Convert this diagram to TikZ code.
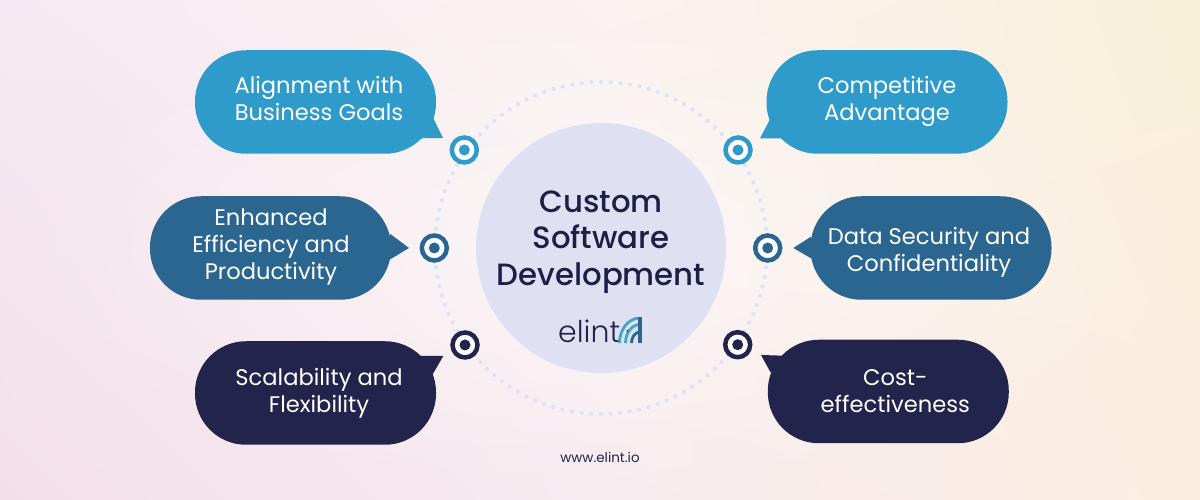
\documentclass[tikz,border=0pt]{standalone}
\usepackage{fontspec}
\usepackage{xcolor}
\usepackage{tikz}
\usetikzlibrary{positioning}
\usetikzlibrary{shadings}
\usetikzlibrary{fadings}
\setmainfont{Poppins}
\newfontfamily\hubfont{Poppins Medium}
\newfontfamily\logofont{Poppins Light}
\definecolor{skyblue}{HTML}{2E9BCB}
\definecolor{steelblue}{HTML}{2A668F}
\definecolor{navy}{HTML}{23244B}
\definecolor{hubink}{HTML}{1E1F45}
\definecolor{hubfill}{HTML}{DFE1F2}
\definecolor{ringdot}{HTML}{DFE2F4}
\definecolor{logoteal}{HTML}{3FA7C6}
\definecolor{bgtl}{HTML}{F5EAF3}
\definecolor{bgtm}{HTML}{FAF3F1}
\definecolor{bgtr}{HTML}{F9F0D8}
\definecolor{bgbl}{HTML}{F3DFEA}
\definecolor{bgbm}{HTML}{F7EBF0}
\definecolor{bgbr}{HTML}{FBEEE0}
\tikzfading[name=glow, inner color=transparent!55, outer color=transparent!100]

\begin{document}
\begin{tikzpicture}[
      x=1pt, y=1pt,
      on grid,
      hubnode/.style={circle,fill=hubfill,minimum size=250pt,inner sep=0pt},
      bubble/.style={rectangle,rounded corners=51pt,minimum width=241pt,minimum height=103.5pt,inner sep=0pt,fill=#1},
      bubtext/.style={text=white,align=center,inner sep=0pt,font=\fontsize{22.6}{27}\selectfont},
      marker/.style={circle,draw=#1,line width=4.5pt,fill=white,minimum size=25pt,inner sep=0pt,
        path picture={\fill[#1] (path picture bounding box.center) circle (5.5pt);}}
      ]

      \useasboundingbox (0,0) rectangle (1200,500);
      \shade[upper left=bgtl, upper right=bgtm, lower left=bgbl, lower right=bgbm] (0,0) rectangle (601,500);
      \shade[upper left=bgtm, upper right=bgtr, lower left=bgbm, lower right=bgbr] (600,0) rectangle (1200,500);
      \fill[white, path fading=glow] (0,0) rectangle (1200,500);

      \node[hubnode] (hub) at (601,252) {};
      \draw[ringdot, line width=4.2pt, line cap=round, dash pattern=on 0pt off 9.657pt] (hub) circle (166pt);

      \node[marker=skyblue, above left=98pt and 136.7pt of hub] (m1) {};
      \node[marker=steelblue, left=166.7pt of hub] (m2) {};
      \node[marker=navy, below left=97pt and 136pt of hub] (m3) {};
      \node[marker=skyblue, above right=98pt and 137pt of hub] (m4) {};
      \node[marker=steelblue, right=166.7pt of hub] (m5) {};
      \node[marker=navy, below right=96.7pt and 136.7pt of hub] (m6) {};

      \node[bubble=skyblue, above left=48pt and 148.8pt of m1] (b1) {};
      \node[bubble=steelblue, left=163.8pt of m2] (b2) {};
      \node[bubble=navy, below left=48pt and 149.5pt of m3] (b3) {};
      \node[bubble=skyblue, above right=48pt and 149pt of m4] (b4) {};
      \node[bubble=steelblue, right=163.3pt of m5] (b5) {};
      \node[bubble=navy, below right=46.8pt and 150.6pt of m6] (b6) {};

      \fill[skyblue] ([shift={(127.5,-36)}]b1.center) -- ([shift={(117.8,-16.3)}]b1.center) -- ([shift={(104.5,-36.3)}]b1.center) -- cycle;
      \fill[steelblue] ([shift={(138.5,0)}]b2.center) -- ([shift={(119.5,14.3)}]b2.center) -- ([shift={(117.5,-12.7)}]b2.center) -- cycle;
      \fill[navy] ([shift={(127.8,37)}]b3.center) -- ([shift={(105.2,37)}]b3.center) -- ([shift={(116.8,18)}]b3.center) -- cycle;
      \fill[skyblue] ([shift={(-127,-36.3)}]b4.center) -- ([shift={(-117,-17.3)}]b4.center) -- ([shift={(-105.3,-36.3)}]b4.center) -- cycle;
      \fill[steelblue] ([shift={(-137.7,0)}]b5.center) -- ([shift={(-120,11.3)}]b5.center) -- ([shift={(-119.3,-10.7)}]b5.center) -- cycle;
      \fill[navy] ([shift={(-127.3,36.5)}]b6.center) -- ([shift={(-105,35.8)}]b6.center) -- ([shift={(-117.6,18.8)}]b6.center) -- cycle;

      \node[bubtext] (t1) at ([shift={(3.5,3.5)}]b1.center) {Alignment with\\Business Goals};
      \node[bubtext] (t2) at ([shift={(0.5,1)}]b2.center) {Enhanced\\Efficiency and\\Productivity};
      \node[bubtext] (t3) at ([shift={(3.5,-0.5)}]b3.center) {Scalability and\\Flexibility};
      \node[bubtext] (t4) at ([shift={(0,0.5)}]b4.center) {Competitive\\Advantage};
      \node[bubtext] (t5) at ([shift={(-2,-4)}]b5.center) {Data Security and\\Confidentiality};
      \node[bubtext] (t6) at ([shift={(7,0)}]b6.center) {Cost-\\effectiveness};

      \node[text=hubink,align=center,inner sep=0pt,font=\hubfont\fontsize{30.8}{36.5}\selectfont,above=6pt of hub] (title) {Custom\\Software\\Development};

      \node[text=navy,inner sep=0pt,font=\logofont\fontsize{30}{30}\selectfont,anchor=base west] (logo) at (558,157.5) {elint};
      \coordinate (arcs) at (640,157);
      \draw[logoteal, line width=2.8pt] ([shift={(-20.5,0)}]arcs) arc (180:95:20.5pt and 25pt);
      \draw[logoteal, line width=2.8pt] ([shift={(-14.5,0)}]arcs) arc (180:95:14.5pt and 18.5pt);
      \draw[steelblue, line width=2.8pt] ([shift={(-8.5,0)}]arcs) arc (180:95:8.5pt and 11pt);
      \fill[navy] (627.3,169.3) circle (1pt);
      \fill[steelblue] (638.3,157) rectangle (641.7,183);

      \node[text=navy,inner sep=0pt,font=\fontsize{13.5}{16}\selectfont] (web) at (600,43) {www.elint.io};

\end{tikzpicture}
\end{document}
